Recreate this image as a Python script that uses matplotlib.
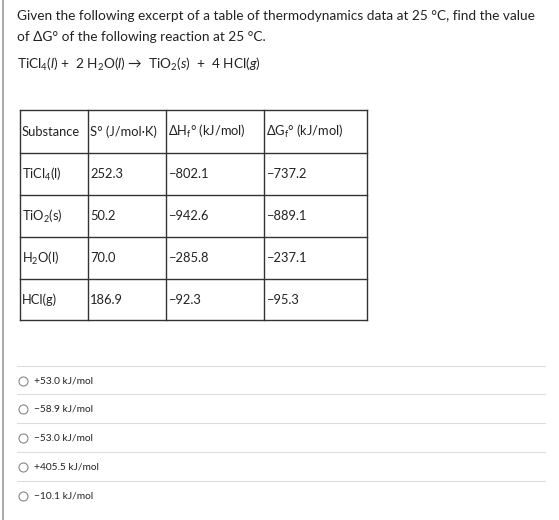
import matplotlib
matplotlib.use('Agg')
import matplotlib.pyplot as plt

plt.rcParams['font.family'] = ['Lato', 'DejaVu Sans']
plt.rcParams['mathtext.fontset'] = 'custom'
plt.rcParams['mathtext.rm'] = 'Lato'
plt.rcParams['mathtext.it'] = 'Lato:italic'

question = ["Given the following excerpt of a table of thermodynamics data at 25 °C, find the value",
            "of ΔG° of the following reaction at 25 °C."]
reaction = r"TiCl$_4$$\mathit{(l)}$ +  2 H$_2$O$\mathit{(l)}$ →  TiO$_2$$\mathit{(s)}$  +  4 HCl$\mathit{(g)}$"

headers = ["Substance", "S° (J/mol·K)", r"ΔH$_\mathrm{f}$° (kJ/mol)", r"ΔG$_\mathrm{f}$° (kJ/mol)"]
substances = [r"TiCl$_4$(l)", r"TiO$_2$(s)", r"H$_2$O(l)", "HCl(g)"]
entropy = ["252.3", "50.2", "70.0", "186.9"]
enthalpy = ["−802.1", "−942.6", "−285.8", "−92.3"]
gibbs = ["−737.2", "−889.1", "−237.1", "−95.3"]
options = ["+53.0 kJ/mol", "−58.9 kJ/mol", "−53.0 kJ/mol", "+405.5 kJ/mol", "−10.1 kJ/mol"]

fig = plt.figure(figsize=(5.59, 5.20), dpi=100)
ax = fig.add_axes([0, 0, 1, 1])
ax.set_xlim(0, 559)
ax.set_ylim(520, 0)
ax.axis('off')

# left page border
ax.plot([3, 3], [0, 520], color='#999999', lw=1.2)

ax.text(17, 16, question[0], fontsize=9.8, va='center', color='#222222')
ax.text(17, 37, question[1], fontsize=9.8, va='center', color='#222222')
ax.text(17, 64, reaction, fontsize=9.8, va='center', color='#222222')

# table
col_x = [20, 88, 166, 264, 367]
row_y = [110, 153, 195, 237, 279, 320]
for x in col_x:
    ax.plot([x, x], [row_y[0], row_y[-1]], color='#333333', lw=1)
for y in row_y:
    ax.plot([col_x[0], col_x[-1]], [y, y], color='#333333', lw=1)

rows = [headers] + [list(r) for r in zip(substances, entropy, enthalpy, gibbs)]
for i, row in enumerate(rows):
    yc = (row_y[i] + row_y[i + 1]) / 2
    for j, cell in enumerate(row):
        ax.text(col_x[j] + 2, yc, cell, fontsize=9.3, va='center', color='#222222')

# answer options
sep_y = [366, 394, 423, 452, 481]
for k, opt in enumerate(options):
    ax.plot([17, 545], [sep_y[k], sep_y[k]], color='#dddddd', lw=0.8)
    yc = sep_y[k] + 15
    ax.plot(23, yc, marker='o', ms=6.5, mfc='white', mec='#888888', mew=0.8)
    ax.text(34, yc, opt, fontsize=7.3, va='center', color='#222222')

fig.savefig('out.png', dpi=100, facecolor='white')
plt.close()
